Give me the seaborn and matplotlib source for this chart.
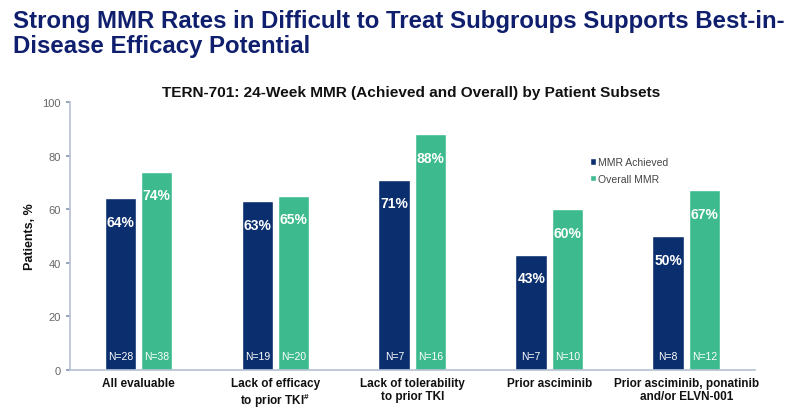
import matplotlib
matplotlib.use("Agg")
import matplotlib.pyplot as plt
import seaborn as sns
import pandas as pd

categories = ["All evaluable", "Lack of efficacy\nto prior TKI$^{\\#}$", "Lack of tolerability\nto prior TKI",
              "Prior asciminib", "Prior asciminib, ponatinib\nand/or ELVN-001"]
series = ["MMR Achieved", "Overall MMR"]
mmr_achieved = [64, 63, 71, 43, 50]
overall_mmr = [74, 65, 88, 60, 67]
n_achieved = [28, 19, 7, 7, 8]
n_overall = [38, 20, 16, 10, 12]

navy = "#0b2f6e"
green = "#3dbb8e"

df = pd.DataFrame({
    "cat": categories * 2,
    "series": [series[0]] * 5 + [series[1]] * 5,
    "value": mmr_achieved + overall_mmr,
    "n": n_achieved + n_overall,
})

sns.set_theme(style="white")
plt.rcParams["font.family"] = ["Liberation Sans", "DejaVu Sans"]
plt.rcParams["mathtext.fontset"] = "custom"
plt.rcParams["mathtext.rm"] = "Liberation Sans:bold"
plt.rcParams["mathtext.it"] = "Liberation Sans:bold"
plt.rcParams["mathtext.bf"] = "Liberation Sans:bold"

fig = plt.figure(figsize=(8, 4.1), dpi=100)
ax = fig.add_axes([0.0875, 0.095, 0.856, 0.654])

sns.barplot(data=df, x="cat", y="value", hue="series", order=categories, hue_order=series,
            palette=[navy, green], width=0.53, gap=0.13, ax=ax, legend=True, saturation=1)

for container, vals, ns in zip(ax.containers, [mmr_achieved, overall_mmr], [n_achieved, n_overall]):
    for bar, v, n in zip(container, vals, ns):
        cx = bar.get_x() + bar.get_width() / 2
        ax.text(cx, v - 8.8, f"{v}%", ha="center", va="center", color="white",
                fontsize=10, fontweight="bold")
        ax.text(cx, 5.3, f"N={n}", ha="center", va="center", color="white", fontsize=7.5)

ax.set_ylim(0, 100)
ax.set_xlim(-0.5, 4.5)
ax.set_yticks([0, 20, 40, 60, 80, 100])
ax.tick_params(axis="y", colors="#8a9ab5", labelcolor="#666666", labelsize=8, length=3, left=True, direction="out")
ax.tick_params(axis="x", length=0, labelsize=8.5, pad=5)
for lab in ax.get_xticklabels():
    lab.set_fontweight("bold")
    lab.set_color("#111111")
    lab.set_linespacing(1.15)
ax.set_xlabel("")
ax.set_ylabel("Patients, %", fontsize=9, fontweight="bold", color="#111111", labelpad=5)
for s in ["top", "right"]:
    ax.spines[s].set_visible(False)
for s in ["left", "bottom"]:
    ax.spines[s].set_color("#b4c0d4")
    ax.spines[s].set_linewidth(1.2)

leg = ax.legend(loc="upper left", bbox_to_anchor=(0.745, 0.828), frameon=False, fontsize=7.5,
                handlelength=0.6, handleheight=0.6, handletextpad=0.2, labelspacing=0.6)
for t in leg.get_texts():
    t.set_color("#444444")

fig.text(0.016, 0.975, "Strong MMR Rates in Difficult to Treat Subgroups Supports Best-in-\nDisease Efficacy Potential",
         ha="left", va="top", fontsize=17.3, fontweight="bold", color="#0f1f6e", linespacing=1.08)
fig.text(0.514, 0.773, "TERN-701: 24-Week MMR (Achieved and Overall) by Patient Subsets",
         ha="center", va="center", fontsize=11.1, fontweight="bold", color="#111111")

fig.savefig("out.png", dpi=100)
